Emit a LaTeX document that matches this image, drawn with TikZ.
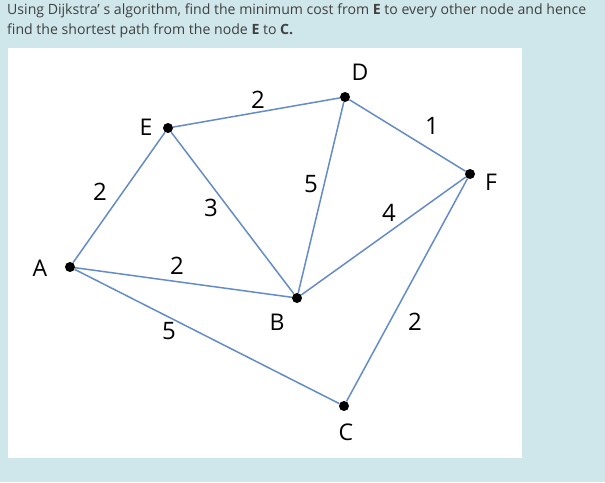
\documentclass[tikz,border=0pt]{standalone}
\usepackage{fontspec}
\setmainfont{Open Sans}
\begin{document}
\begin{tikzpicture}[x=1pt,y=-1pt,
  dot/.style={circle,fill=black,inner sep=0pt,minimum size=10pt},
  edge/.style={draw={rgb,255:red,100;green,140;blue,200},line width=1.5pt},
  lab/.style={font=\fontsize{24}{24}\selectfont,inner sep=0pt},
  nlab/.style={font=\fontsize{23}{23}\selectfont,inner sep=0pt}]
\definecolor{bg}{RGB}{207,230,234}
\fill[bg] (0,0) rectangle (605,482);
\useasboundingbox (0,0) rectangle (605,482);
\fill[white] (8,48) rectangle (522,458);
\node[anchor=west,inner sep=0pt,text=black!75,font=\fontsize{14.1}{16}\selectfont] (t1) at (7,11) {Using Dijkstra' s algorithm, find the minimum cost from \textbf{E} to every other node and hence};
\node[anchor=west,inner sep=0pt,text=black!75,font=\fontsize{14.1}{16}\selectfont] (t2) at (7,31) {find the shortest path from the node \textbf{E} to \textbf{C.}};
\node[dot] (D) at (345,97) {};
\node[dot] (E) at (168,128) {};
\node[dot] (F) at (470,174) {};
\node[dot] (A) at (70,267) {};
\node[dot] (B) at (297,298) {};
\node[dot] (C) at (344,406) {};
\draw[edge] (E)--(D) (D)--(F) (A)--(E) (E)--(B) (D)--(B) (B)--(F) (A)--(B) (A)--(C) (F)--(C);
\node[nlab] (lD) at (360,72) {D};
\node[nlab] (lE) at (146,127) {E};
\node[nlab] (lF) at (491,182) {F};
\node[nlab] (lA) at (40,268) {A};
\node[nlab] (lB) at (277,322) {B};
\node[nlab] (lC) at (346,432) {C};
\node[lab] (w1) at (258,100) {2};
\node[lab] (w2) at (432,126) {1};
\node[lab] (w3) at (100,192) {2};
\node[lab] (w4) at (211,208) {3};
\node[lab] (w5) at (311,184) {5};
\node[lab] (w6) at (389,213) {4};
\node[lab] (w7) at (177,266) {2};
\node[lab] (w8) at (169,331) {5};
\node[lab] (w9) at (415,322) {2};
\end{tikzpicture}
\end{document}
